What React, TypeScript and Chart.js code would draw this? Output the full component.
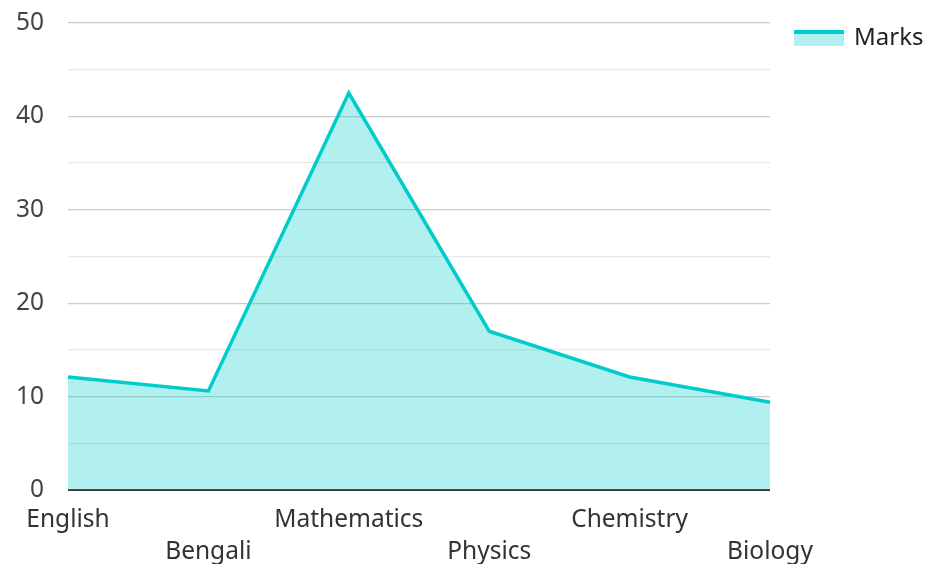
import React, { useEffect, useRef } from "react";
import { Chart, registerables } from "chart.js";

Chart.register(...registerables);

const subjects = ["English", "Bengali", "Mathematics", "Physics", "Chemistry", "Biology"];
const marks = [12.1, 10.6, 42.5, 17, 12.1, 9.4];
const seriesName = "Marks";
const yMin = 0;
const yMax = 50;
const yStep = 5;

const LINE = "#00cccc";
const FILL = "rgba(0,204,204,0.3)";
const FONT = "'Noto Sans', 'Open Sans', sans-serif";
const FS = 24.5;

function legendSwatch(): HTMLCanvasElement {
  const c = document.createElement("canvas");
  c.width = 50;
  c.height = 16;
  const ctx = c.getContext("2d")!;
  ctx.fillStyle = FILL;
  ctx.fillRect(0, 0, 50, 16);
  ctx.fillStyle = LINE;
  ctx.fillRect(0, 0, 50, 4);
  return c;
}

const legendWidthPlugin = {
  id: "legendWidth",
  beforeLayout(chart: any) {
    const lg = chart.legend;
    if (lg && !lg.__fixedWidth) {
      const orig = lg.fit.bind(lg);
      lg.fit = function () {
        orig();
        if (this.width > 0) this.width = 158;
      };
      lg.__fixedWidth = true;
    }
  },
};

export default function App() {
  const ref = useRef<HTMLCanvasElement>(null);
  useEffect(() => {
    if (!ref.current) return;
    const labels = subjects.map((s, i) => (i % 2 === 0 ? [s, ""] : ["", s]));
    const swatch = legendSwatch();
    const chart = new Chart(ref.current, {
      type: "line",
      data: {
        labels,
        datasets: [
          {
            label: seriesName,
            data: marks,
            borderColor: LINE,
            backgroundColor: FILL,
            borderWidth: 3.5,
            fill: "origin",
            pointRadius: 0,
            tension: 0,
            pointStyle: swatch as any,
          },
        ],
      },
      plugins: [legendWidthPlugin],
      options: {
        animation: false,
        responsive: false,
        maintainAspectRatio: false,
        layout: { padding: { top: 0, right: 0, left: 0, bottom: 0 } },
        plugins: {
          tooltip: { enabled: false },
          legend: {
            position: "right",
            align: "start",
            labels: {
              usePointStyle: true,
              pointStyleWidth: 46,
              color: "#222",
              padding: 26,
              font: { family: FONT, size: 24 },
            },
          },
        },
        scales: {
          x: {
            grid: { display: false },
            border: { display: false },
            offset: false,
            ticks: {
              autoSkip: false,
              maxRotation: 0,
              minRotation: 0,
              color: "#333",
              padding: 6,
              font: { family: FONT, size: FS, lineHeight: 1.31 },
            },
            afterFit: (s: any) => {
              s.height = 74;
            },
          },
          y: {
            min: yMin,
            max: yMax,
            border: { display: false },
            grid: {
              drawTicks: true,
              tickLength: 15.7,
              tickColor: "rgba(0,0,0,0)",
              lineWidth: (ctx: any) => (ctx.tick && ctx.tick.value === 0 ? 2 : 1.3),
              color: (ctx: any) => {
                const v = ctx.tick ? ctx.tick.value : 1;
                if (v === 0) return "#333";
                if (v % 10 === 0) return "#cccccc";
                return "#e8e8e8";
              },
            },
            ticks: {
              stepSize: yStep,
              padding: 8.3,
              color: "#444",
              font: { family: FONT, size: FS },
              callback: (v: any) => (Number(v) % 10 === 0 ? String(v) : ""),
            },
            afterFit: (s: any) => {
              s.width = 68;
            },
          },
        },
      },
    });
    return () => chart.destroy();
  }, []);
  return (
    <div style={{ position: "fixed", left: 0, top: 0, width: 928, height: 564, background: "#fff" }}>
      <canvas ref={ref} width={928} height={564} style={{ width: 928, height: 564 }} />
    </div>
  );
}
